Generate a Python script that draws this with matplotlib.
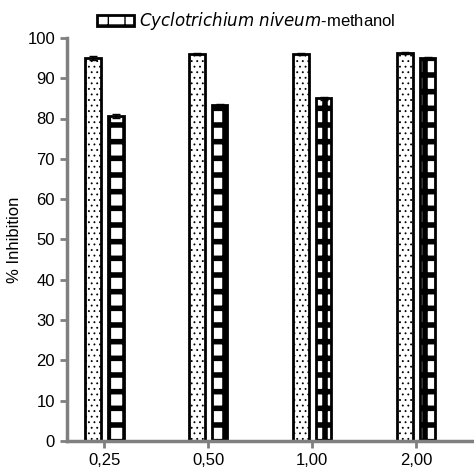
import matplotlib.pyplot as plt
import numpy as np

doses = ['0,25', '0,50', '1,00', '2,00']
dotted_vals = [95.0, 96.0, 96.0, 96.2]
dotted_err = [0.4, 0.3, 0.3, 0.2]
methanol_vals = [80.7, 83.3, 85.0, 95.0]
methanol_err = [0.5, 0.3, 0.4, 0.3]

plt.rcParams['font.family'] = ['Liberation Sans', 'DejaVu Sans']

fig = plt.figure(figsize=(4.74, 4.74), dpi=100)
ax = fig.add_axes([0.141, 0.07, 0.86, 0.85])

x = np.arange(len(doses))
w = 0.15
b1 = ax.bar(x - 0.11, dotted_vals, w, yerr=dotted_err, color='white', edgecolor='black',
            linewidth=2, hatch='...', capsize=3, error_kw={'elinewidth': 1.5})
for p in b1:
    p.set_hatch_linewidth(0.6)
b2 = ax.bar(x + 0.11, methanol_vals, w, yerr=methanol_err, color='white', edgecolor='black',
            linewidth=2, hatch='+', capsize=3, error_kw={'elinewidth': 1.5},
            label='$\\it{Cyclotrichium\\ niveum}$-methanol')
for p in b2:
    p.set_hatch_linewidth(4)

ax.set_xlim(-0.36, 3.56)
ax.set_ylim(0, 100)
ax.set_yticks(range(0, 101, 10))
ax.set_xticks(x)
ax.set_xticklabels(doses)
ax.set_ylabel('% Inhibition', fontsize=12)
ax.tick_params(labelsize=12, color='gray', width=2, length=5)
for s in ['top', 'right']:
    ax.spines[s].set_visible(False)
for s in ['left', 'bottom']:
    ax.spines[s].set_color('gray')
    ax.spines[s].set_linewidth(2.5)

fig.legend(handles=[b2], loc='upper center', bbox_to_anchor=(0.52, 1.01), frameon=False,
           fontsize=12, handlelength=2.2, handletextpad=0.3)

fig.savefig('out.png', dpi=100)
